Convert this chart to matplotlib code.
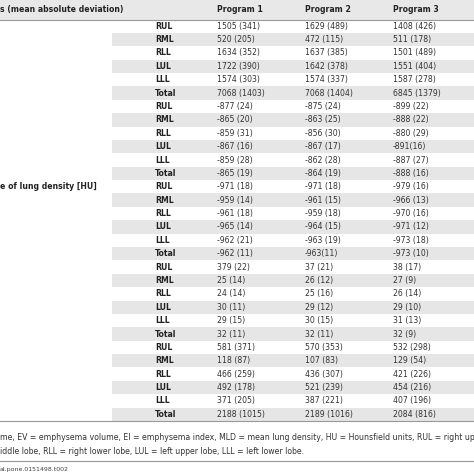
import matplotlib
matplotlib.use("Agg")
import matplotlib.pyplot as plt
from matplotlib.patches import Rectangle

header = ["Program 1", "Program 2", "Program 3"]
lobes = ["RUL", "RML", "RLL", "LUL", "LLL", "Total"] * 4
prog1 = ["1505 (341)", "520 (205)", "1634 (352)", "1722 (390)", "1574 (303)", "7068 (1403)",
         "-877 (24)", "-865 (20)", "-859 (31)", "-867 (16)", "-859 (28)", "-865 (19)",
         "-971 (18)", "-959 (14)", "-961 (18)", "-965 (14)", "-962 (21)", "-962 (11)",
         "379 (22)", "25 (14)", "24 (14)", "30 (11)", "29 (15)", "32 (11)",
         "581 (371)", "118 (87)", "466 (259)", "492 (178)", "371 (205)", "2188 (1015)"]
prog2 = ["1629 (489)", "472 (115)", "1637 (385)", "1642 (378)", "1574 (337)", "7068 (1404)",
         "-875 (24)", "-863 (25)", "-856 (30)", "-867 (17)", "-862 (28)", "-864 (19)",
         "-971 (18)", "-961 (15)", "-959 (18)", "-964 (15)", "-963 (19)", "-963(11)",
         "37 (21)", "26 (12)", "25 (16)", "29 (12)", "30 (15)", "32 (11)",
         "570 (353)", "107 (83)", "436 (307)", "521 (239)", "387 (221)", "2189 (1016)"]
prog3 = ["1408 (426)", "511 (178)", "1501 (489)", "1551 (404)", "1587 (278)", "6845 (1379)",
         "-899 (22)", "-888 (22)", "-880 (29)", "-891(16)", "-887 (27)", "-888 (16)",
         "-979 (16)", "-966 (13)", "-970 (16)", "-971 (12)", "-973 (18)", "-973 (10)",
         "38 (17)", "27 (9)", "26 (14)", "29 (10)", "31 (13)", "32 (9)",
         "532 (298)", "129 (54)", "421 (226)", "454 (216)", "407 (196)", "2084 (816)"]
lobes = lobes[:30] if len(lobes) >= 30 else ["RUL", "RML", "RLL", "LUL", "LLL", "Total"] * 5
lobes = ["RUL", "RML", "RLL", "LUL", "LLL", "Total"] * 5

W = H = 474
fig = plt.figure(figsize=(4.74, 4.74), dpi=100)
ax = fig.add_axes([0, 0, 1, 1])
ax.set_xlim(0, W)
ax.set_ylim(H, 0)
ax.axis("off")

fs = 5.6
n = len(lobes)
top = 19.5
bottom = 421
rh = (bottom - top) / n

ax.add_patch(Rectangle((0, 0), W, top, color="#e8e8e8", lw=0))
ax.plot([0, W], [top, top], color="#999999", lw=0.8)
ax.text(0, top / 2, "s (mean absolute deviation)", fontsize=fs, fontweight="bold", va="center", color="#222")
for x, h in zip([217, 305, 393], header):
    ax.text(x, top / 2, h, fontsize=fs, fontweight="bold", va="center", color="#222")

for i in range(n):
    y0 = top + i * rh
    yc = y0 + rh / 2
    if i % 2 == 1:
        ax.add_patch(Rectangle((112, y0), W - 112, rh, color="#e6e6e6", lw=0))
    ax.text(155, yc, lobes[i], fontsize=fs, fontweight="bold", va="center", color="#222")
    for x, col in zip([217, 305, 393], [prog1, prog2, prog3]):
        ax.text(x, yc, col[i], fontsize=fs, va="center", color="#333")

ax.text(0, top + 12 * rh + rh / 2, "e of lung density [HU]", fontsize=fs, fontweight="bold", va="center", color="#222")
ax.plot([0, W], [bottom, bottom], color="#999999", lw=0.8)
ax.text(0, 437, "me, EV = emphysema volume, EI = emphysema index, MLD = mean lung density, HU = Hounsfield units, RUL = right upper l",
        fontsize=fs, va="center", color="#333")
ax.text(0, 451, "iddle lobe, RLL = right lower lobe, LUL = left upper lobe, LLL = left lower lobe.",
        fontsize=fs, va="center", color="#333")
ax.plot([0, W], [461, 461], color="#999999", lw=0.8)
ax.text(0, 469, "al.pone.0151498.t002", fontsize=4.5, va="center", color="#444")

fig.savefig("out.png", dpi=100)
